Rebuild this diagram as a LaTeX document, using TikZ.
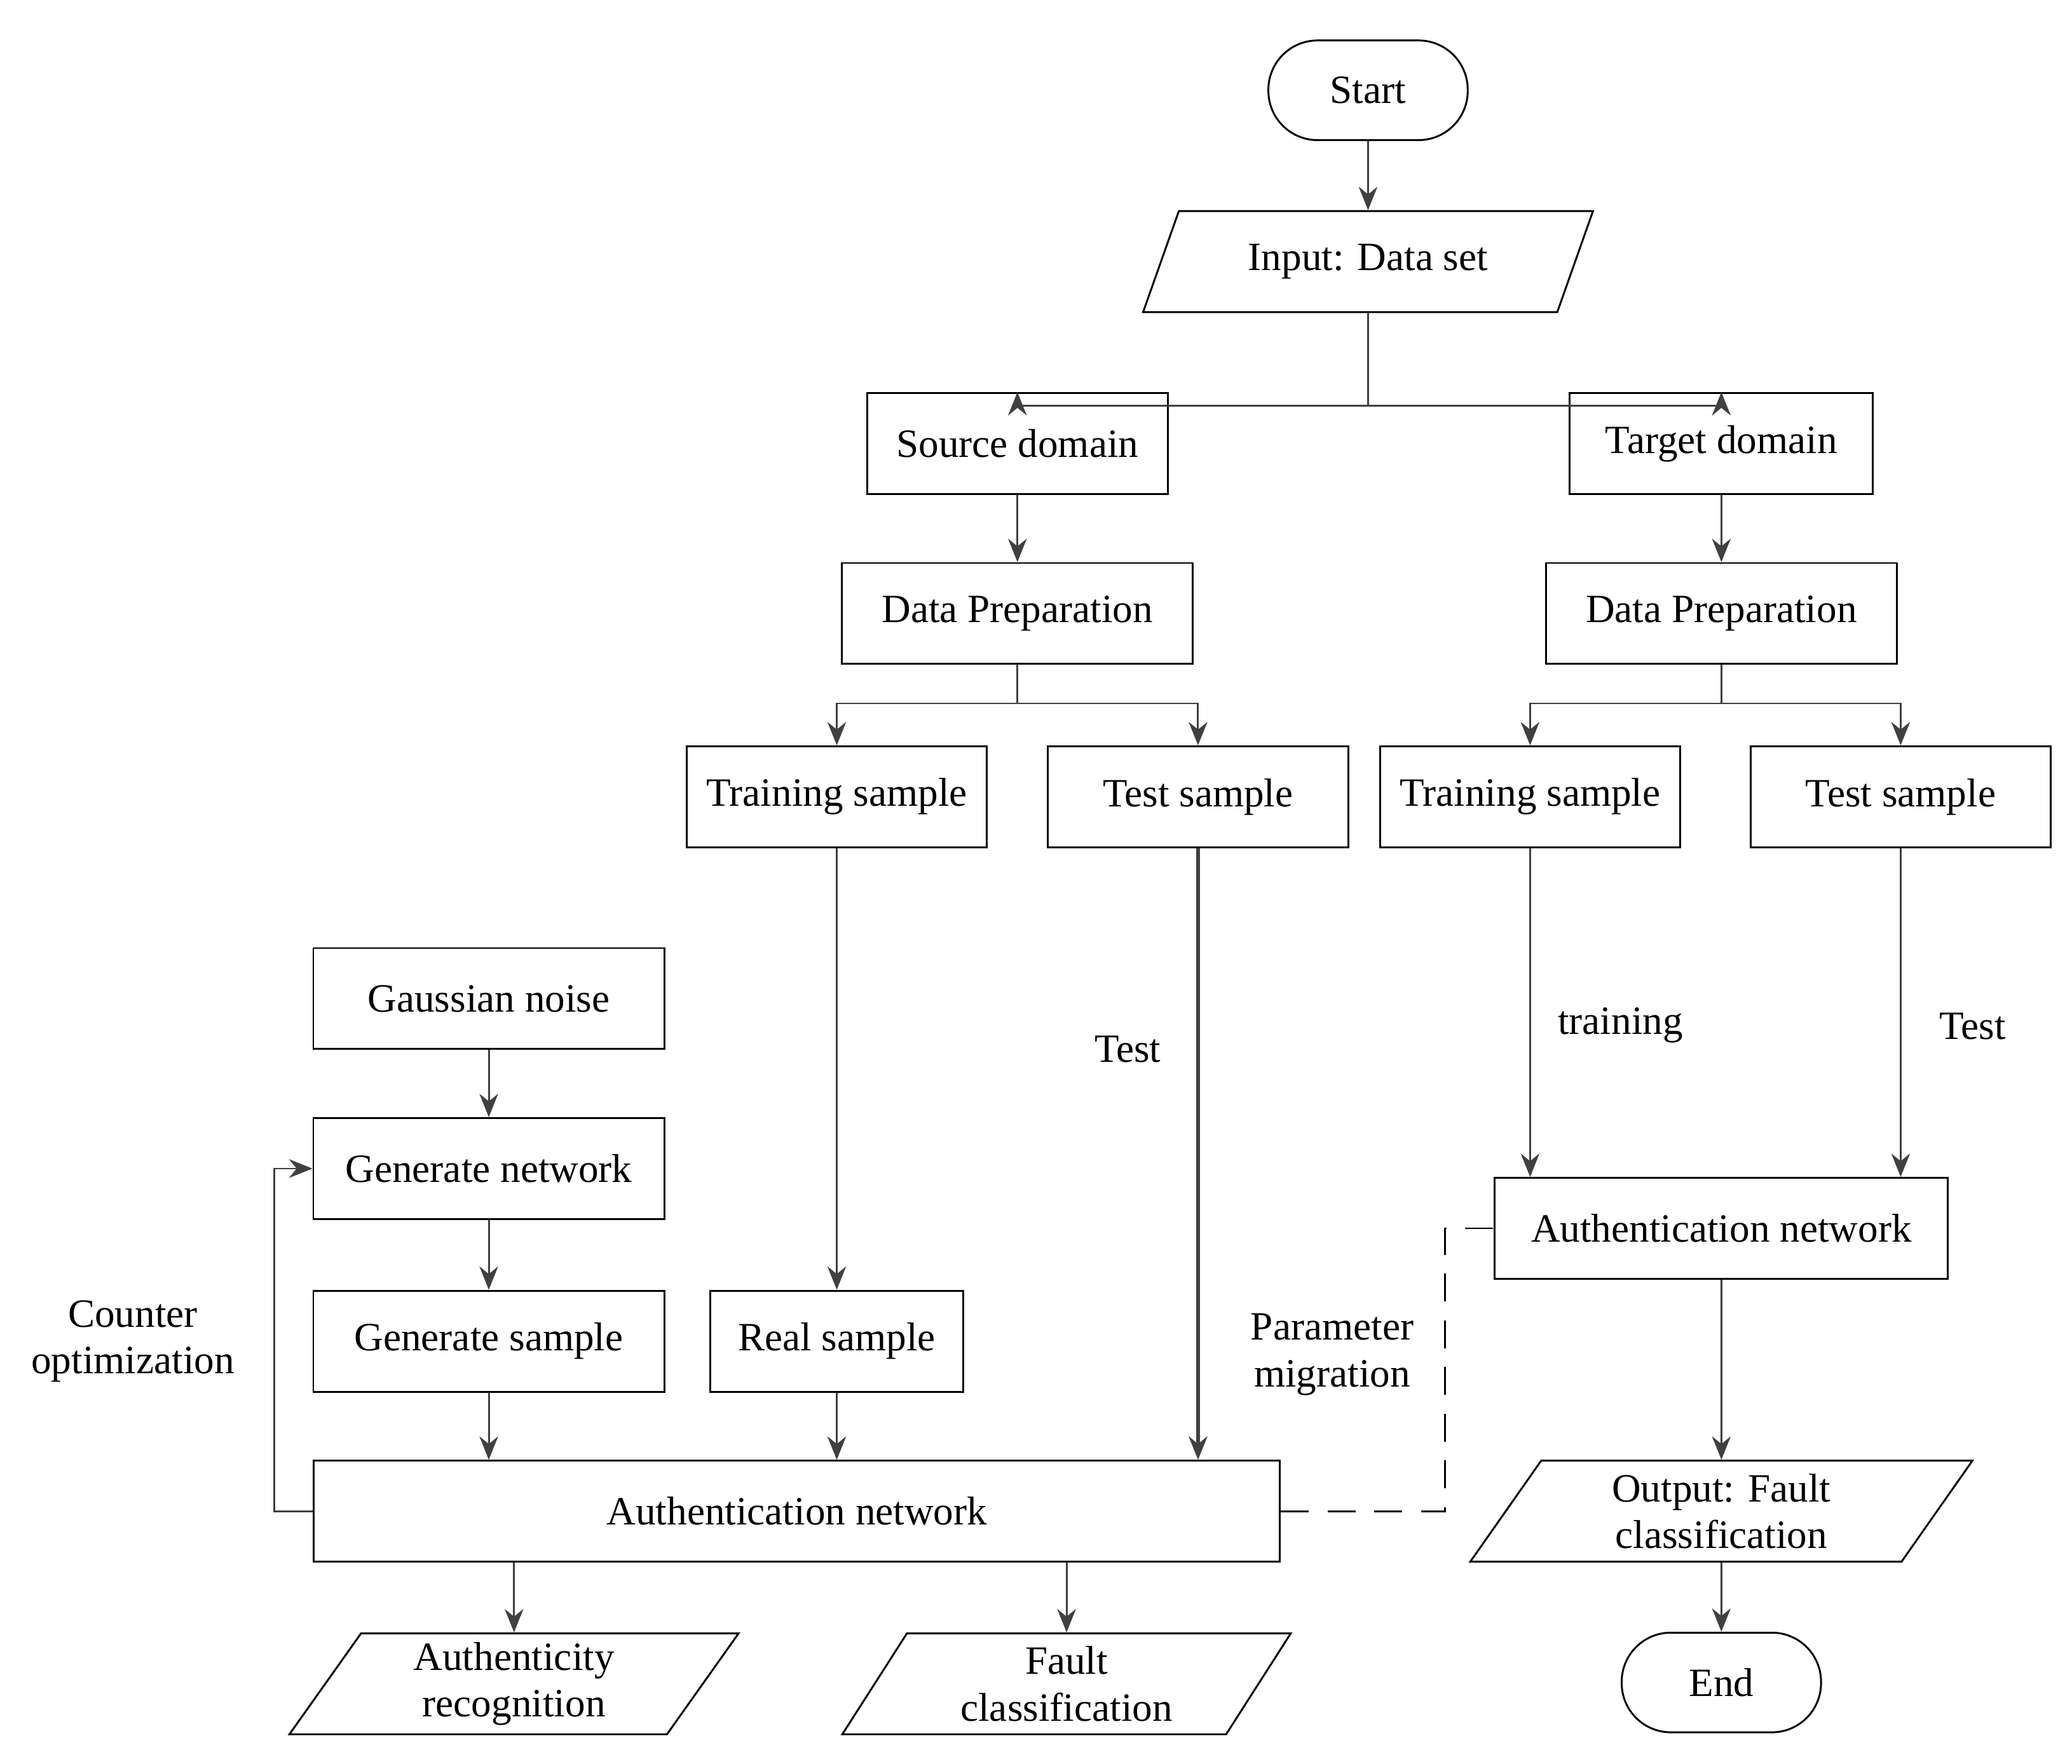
\documentclass[tikz,border=0pt]{standalone}
\usepackage{fontspec}
\setmainfont{Liberation Serif}
\usetikzlibrary{shapes.geometric,arrows.meta}
\begin{document}
\begin{tikzpicture}[x=0.01cm,y=-0.01cm,
    font=\fontsize{8.6}{10}\selectfont,
    box/.style={draw,thin,minimum height=0.76cm,inner sep=1pt},
    term/.style={draw,thin,rounded corners=0.37cm,minimum width=1.5cm,minimum height=0.75cm},
    io/.style={draw,thin,trapezium,trapezium left angle=62,trapezium right angle=118,
      trapezium stretches=true,minimum height=0.76cm,align=center,inner sep=1pt},
    arr/.style={-{Stealth[length=5pt,width=4pt]},thin,draw=black!75}]
  \useasboundingbox (0,0) rectangle (1560,1328);

  \node[term] (start) at (1030,68) {Start};
  \node[io,minimum width=3.4cm] (input) at (1030,197) {Input: Data set};
  \node[box,minimum width=2.26cm] (srcd) at (766,334) {Source domain};
  \node[box,minimum width=2.28cm] (tgtd) at (1296,334) {Target domain};
  \node[box,minimum width=2.64cm] (prepL) at (766,462) {Data Preparation};
  \node[box,minimum width=2.64cm] (prepR) at (1296,462) {Data Preparation};
  \node[box,minimum width=2.26cm] (trainL) at (630,600) {Training sample};
  \node[box,minimum width=2.26cm] (testL) at (902,600) {Test sample};
  \node[box,minimum width=2.26cm] (trainR) at (1152,600) {Training sample};
  \node[box,minimum width=2.26cm] (testR) at (1431,600) {Test sample};
  \node[box,minimum width=2.64cm] (noise) at (368,752) {Gaussian noise};
  \node[box,minimum width=2.64cm] (gennet) at (368,880) {Generate network};
  \node[box,minimum width=2.64cm] (gensam) at (368,1010) {Generate sample};
  \node[box,minimum width=1.9cm] (real) at (630,1010) {Real sample};
  \node[box,minimum width=7.27cm] (authL) at (600,1138) {Authentication network};
  \node[box,minimum width=3.41cm] (authR) at (1296,925) {Authentication network};
  \node[io,minimum width=3.39cm] (authrec) at (387,1268) {Authenticity\\recognition};
  \node[io,minimum width=3.38cm] (faultL) at (803,1268) {Fault\\classification};
  \node[io,minimum width=3.78cm] (output) at (1296,1138) {Output: Fault\\classification};
  \node[term] (end) at (1296,1267) {End};

  \node (lblTestL) at (849,790) {Test};
  \node (lblTrain) at (1220,772) {training};
  \node (lblTestR) at (1485,773) {Test};
  \node[align=center] (lblCounter) at (100,1010) {Counter\\optimization};
  \node[align=center] (lblParam) at (1003,1020) {Parameter\\migration};

  % main flow
  \draw[arr] (start) -- (input);
  \draw[arr] (input.south) -- ++(0,70) -| (srcd.north);
  \draw[arr] (input.south) -- ++(0,70) -| (tgtd.north);
  \draw[arr] (srcd) -- (prepL);
  \draw[arr] (tgtd) -- (prepR);
  \draw[arr] (prepL.south) -- ++(0,29) -| (trainL.north);
  \draw[arr] (prepL.south) -- ++(0,29) -| (testL.north);
  \draw[arr] (prepR.south) -- ++(0,29) -| (trainR.north);
  \draw[arr] (prepR.south) -- ++(0,29) -| (testR.north);

  % source side
  \draw[arr] (noise) -- (gennet);
  \draw[arr] (gennet) -- (gensam);
  \draw[arr] (trainL) -- (real);
  \draw[arr] (gensam.south) -- (gensam.south |- authL.north);
  \draw[arr] (real.south) -- (real.south |- authL.north);
  \draw[arr,thick] (testL.south) -- (testL.south |- authL.north);
  \draw[arr] (authL.west) -- ++(-29,0) |- (gennet.west);
  \draw[arr] (authL.south -| authrec.north) -- (authrec.north);
  \draw[arr] (authL.south -| faultL.north) -- (faultL.north);

  % target side
  \draw[arr] (trainR.south) -- (trainR.south |- authR.north);
  \draw[arr] (testR.south) -- (testR.south |- authR.north);
  \draw[arr] (authR) -- (output);
  \draw[arr] (output) -- (end);
  \draw[thin,dashed,dash pattern=on 6pt off 4pt] (authL.east) -- (1088,1138) |- (authR.west);
\end{tikzpicture}
\end{document}
